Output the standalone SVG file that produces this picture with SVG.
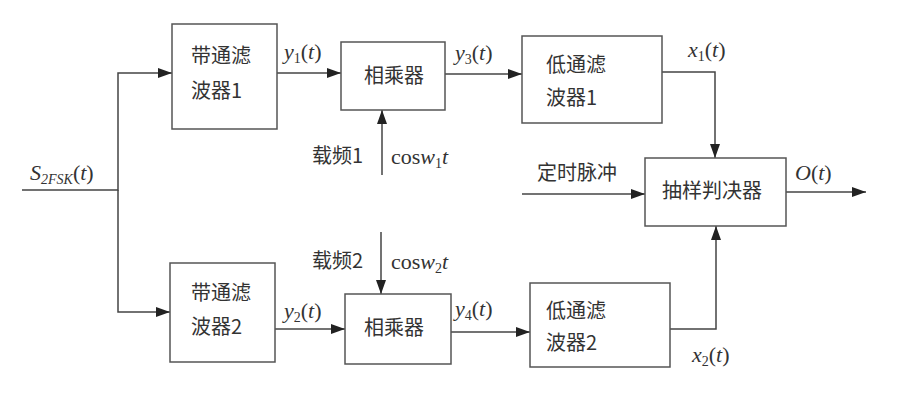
<svg xmlns="http://www.w3.org/2000/svg" width="923" height="417" viewBox="0 0 923 417">
<style>
rect{fill:#fff;stroke:#555;stroke-width:1.5}
.c{fill:none;stroke:#444;stroke-width:1.5}
text{font-family:"Noto Sans CJK SC",sans-serif;font-size:20px;fill:#333}
.m{font-family:"Liberation Serif",serif;font-size:22px;font-style:italic}
.n{font-style:normal}
.s{font-size:14px}
</style>
<defs><marker id="a" markerWidth="14" markerHeight="10" refX="14" refY="5" orient="auto" markerUnits="userSpaceOnUse"><path d="M0,0L14,5L0,10z" fill="#222"/></marker></defs>
<rect width="923" height="417" style="fill:#fff;stroke:none"/>
<g id="connectors">
<path class="c" d="M22,190H118V73H172" marker-end="url(#a)"/>
<path class="c" d="M118,190V312H170" marker-end="url(#a)"/>
<path class="c" d="M277,73H341" marker-end="url(#a)"/>
<path class="c" d="M275,329H345" marker-end="url(#a)"/>
<path class="c" d="M382,175V110" marker-end="url(#a)"/>
<path class="c" d="M381,232V294" marker-end="url(#a)"/>
<path class="c" d="M445,74H522" marker-end="url(#a)"/>
<path class="c" d="M451,332H530" marker-end="url(#a)"/>
<path class="c" d="M662,72H715V158" marker-end="url(#a)"/>
<path class="c" d="M670,329H716V226" marker-end="url(#a)"/>
<path class="c" d="M522,194H645" marker-end="url(#a)"/>
<path class="c" d="M786,192H866" marker-end="url(#a)"/>
</g>
<g id="bpf1"><rect x="172" y="24" width="105" height="105"/><text x="191" y="63">带通滤</text><text x="191" y="98">波器1</text></g>
<g id="bpf2"><rect x="170" y="263" width="105" height="99"/><text x="191" y="300">带通滤</text><text x="191" y="334">波器2</text></g>
<g id="mul1"><rect x="341" y="42" width="104" height="68"/><text x="364" y="83">相乘器</text></g>
<g id="mul2"><rect x="345" y="294" width="106" height="70"/><text x="364" y="335">相乘器</text></g>
<g id="lpf1"><rect x="522" y="36" width="140" height="87"/><text x="546" y="72">低通滤</text><text x="546" y="105">波器1</text></g>
<g id="lpf2"><rect x="530" y="283" width="140" height="84"/><text x="546" y="318">低通滤</text><text x="546" y="350">波器2</text></g>
<g id="dec"><rect x="645" y="158" width="141" height="68"/><text x="662" y="198">抽样判决器</text></g>
<g id="labels">
<text class="m" x="30" y="180">S<tspan class="s" dy="4">2FSK</tspan><tspan class="n" dy="-4">(</tspan>t<tspan class="n">)</tspan></text>
<text class="m" x="284" y="59">y<tspan class="s n" dy="4">1</tspan><tspan class="n" dy="-4">(</tspan>t<tspan class="n">)</tspan></text>
<text class="m" x="284" y="318">y<tspan class="s n" dy="4">2</tspan><tspan class="n" dy="-4">(</tspan>t<tspan class="n">)</tspan></text>
<text class="m" x="455" y="60">y<tspan class="s n" dy="4">3</tspan><tspan class="n" dy="-4">(</tspan>t<tspan class="n">)</tspan></text>
<text class="m" x="455" y="316">y<tspan class="s n" dy="4">4</tspan><tspan class="n" dy="-4">(</tspan>t<tspan class="n">)</tspan></text>
<text class="m" x="688" y="57">x<tspan class="s n" dy="4">1</tspan><tspan class="n" dy="-4">(</tspan>t<tspan class="n">)</tspan></text>
<text class="m" x="692" y="362">x<tspan class="s n" dy="4">2</tspan><tspan class="n" dy="-4">(</tspan>t<tspan class="n">)</tspan></text>
<text class="m" x="795" y="180">O<tspan class="n">(</tspan>t<tspan class="n">)</tspan></text>
<text x="312" y="163">载频1</text>
<text x="312" y="268">载频2</text>
<text class="m" x="391" y="164"><tspan class="n">cos</tspan>w<tspan class="s n" dy="4">1</tspan><tspan dy="-4">t</tspan></text>
<text class="m" x="391" y="269"><tspan class="n">cos</tspan>w<tspan class="s n" dy="4">2</tspan><tspan dy="-4">t</tspan></text>
<text x="537" y="180">定时脉冲</text>
</g>
</svg>
